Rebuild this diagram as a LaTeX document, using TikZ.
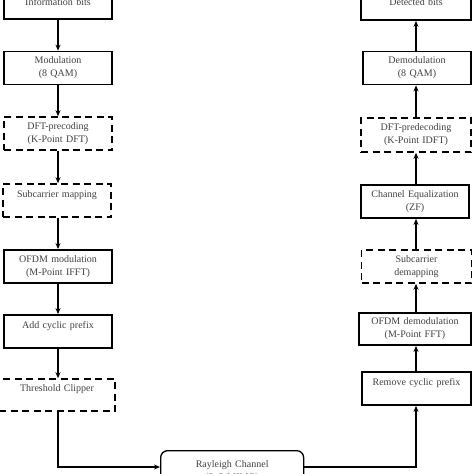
\documentclass[tikz,border=0pt]{standalone}
\usepackage{fontspec}
\setmainfont{Liberation Serif}
\usetikzlibrary{arrows.meta}
\begin{document}
\begin{tikzpicture}[x=1pt,y=-1pt,
  blk/.style={draw=black,line width=1.8pt,minimum height=33pt,inner sep=0pt,
    align=center,text=black!75,font=\fontsize{10}{13}\selectfont},
  lblk/.style={blk,minimum width=108pt,text width=104pt},
  rblk/.style={blk,minimum width=110pt,text width=106pt},
  dsh/.style={dash pattern=on 7pt off 4.5pt,line width=1.6pt},
  conn/.style={line width=1.3pt,-{Stealth[length=6pt,width=5pt]}},
  plain/.style={line width=1.3pt}]
\useasboundingbox (0,0) rectangle (474,474);
% left column
\node[lblk,minimum height=34pt] (L1) at (58,2) {Information bits};
\node[lblk] (L2) at (58,68) {Modulation\\(8 QAM)};
\node[lblk,dsh] (L3) at (58,133.5) {DFT-precoding\\(K-Point DFT)};
\node[lblk,dsh] (L4) at (57,200.5) {Subcarrier mapping\\ \phantom{X}};
\node[lblk] (L5) at (58,266.5) {OFDM modulation\\(M-Point IFFT)};
\node[lblk] (L6) at (58,331.5) {Add cyclic prefix\\ \phantom{X}};
\node[blk,dsh,minimum width=116pt,text width=112pt,minimum height=32pt] (L7) at (57,395) {Threshold Clipper\\ \phantom{X}};
% right column
\node[rblk,minimum height=36pt] (R1) at (416,2) {Detected bits};
\node[rblk,minimum width=108pt] (R2) at (417,68) {Demodulation\\(8 QAM)};
\node[rblk,dsh,minimum height=34pt] (R3) at (416,135) {DFT-predecoding\\(K-Point IDFT)};
\node[rblk,minimum width=108pt] (R4) at (415,201.5) {Channel Equalization\\(ZF)};
\node[rblk,dsh] (R5) at (416.5,266.5) {Subcarrier\\demapping};
\node[rblk,minimum width=112pt,minimum height=32pt] (R6) at (415,329) {OFDM demodulation\\(M-Point FFT)};
\node[rblk,minimum width=109pt] (R7) at (416.5,388.5) {Remove cyclic prefix\\ \phantom{X}};
% channel
\node[blk,line width=1.3pt,rounded corners=7pt,minimum width=143pt,minimum height=42pt,text width=139pt,anchor=north west] (CH) at (160,450) {Rayleigh Channel\\(2x2 MIMO)};
% left arrows
\draw[conn] (L1.south -| 58,0) -- (L2.north -| 58,0);
\draw[conn] (L2.south -| 58,0) -- (L3.north -| 58,0);
\draw[conn] (L3.south -| 58,0) -- (L4.north -| 58,0);
\draw[conn] (L4.south -| 58,0) -- (L5.north -| 58,0);
\draw[conn] (L5.south -| 58,0) -- (L6.north -| 58,0);
\draw[conn] (L6.south -| 58,0) -- (L7.north -| 58,0);
\coordinate (bl) at (58,467);
\coordinate (br) at (416,467);
\draw[conn] (L7.south -| bl) -- (bl) -- (CH.west |- bl);
\draw[conn] (CH.east |- br) -- (br) -- (R7.south -| br);
% right arrows
\draw[conn] (R7.north -| br) -- (R6.south -| br);
\draw[conn] (R6.north -| br) -- (R5.south -| br);
\draw[conn] (R5.north -| br) -- (R4.south -| br);
\draw[conn] (R4.north -| br) -- (R3.south -| br);
\draw[conn] (R3.north -| br) -- (R2.south -| br);
\draw[conn] (R2.north -| br) -- (R1.south -| br);
\end{tikzpicture}
\end{document}
